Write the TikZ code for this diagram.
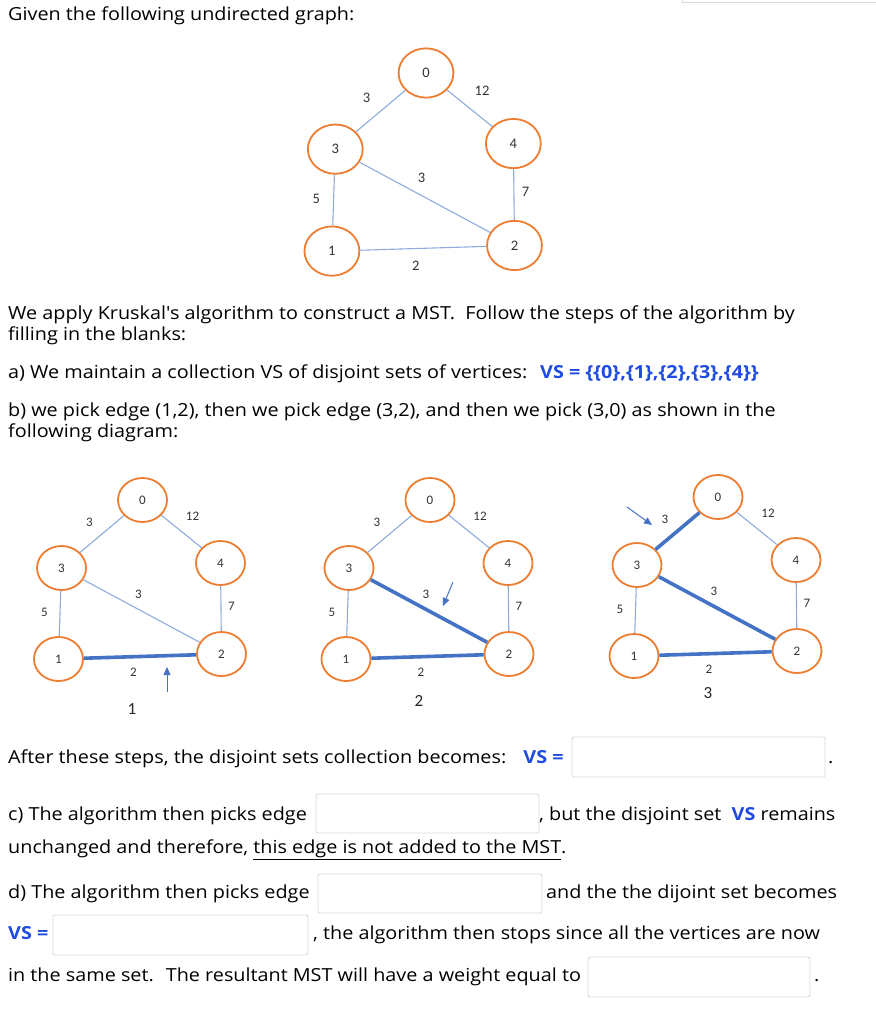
\documentclass[tikz,border=0pt]{standalone}
\usepackage{fontspec}
\setmainfont{Open Sans}[FakeStretch=1.1]
\newfontfamily\lblfont{Carlito}
\usetikzlibrary{shapes.geometric,arrows.meta}

\definecolor{vorange}{HTML}{ED7D31}
\definecolor{thinblue}{HTML}{8FAADC}
\definecolor{mstblue}{HTML}{4472C4}
\definecolor{vsblue}{HTML}{1F4BE0}
\definecolor{blankgray}{HTML}{D9D9D9}

\tikzset{
  vertex/.style={ellipse, draw=vorange, line width=1.8pt, fill=white,
    minimum width=49pt, minimum height=44pt, inner sep=0pt,
    font=\lblfont\fontsize{13}{13}\selectfont, text=black!80},
  wlabel/.style={font=\lblfont\fontsize{13}{13}\selectfont, text=black!80, inner sep=0pt},
  steplabel/.style={font=\lblfont\fontsize{17}{17}\selectfont, text=black!85, inner sep=0pt},
  thinedge/.style={draw=thinblue, line width=1.1pt},
  mstedge/.style={draw=mstblue, line width=3.6pt},
  pointer/.style={draw=mstblue, line width=1pt, -{Triangle[width=7pt,length=8pt]}},
  txt/.style={anchor=base west, inner sep=0pt, font=\fontsize{18}{21}\selectfont},
  blank/.style={draw=blankgray, line width=0.9pt, rounded corners=2pt, fill=white}
}
\newcommand{\vs}{\textcolor{vsblue}{\bfseries VS}}

% one copy of the graph: prefix, x, y, scale
\newcommand{\kgraph}[4]{%
  \begin{scope}[shift={(#2,#3)}, scale=#4, transform shape]
    \node[vertex] (#1-0) at (0,0) {0};
    \node[vertex] (#1-3) at (-81,68) {3};
    \node[vertex] (#1-4) at (78,63) {4};
    \node[vertex] (#1-1) at (-84,159) {1};
    \node[vertex] (#1-2) at (79,154) {2};
    \draw[thinedge] (#1-0) -- (#1-3);
    \draw[thinedge] (#1-0) -- (#1-4);
    \draw[thinedge] (#1-3) -- (#1-2);
    \draw[thinedge] (#1-3) -- (#1-1);
    \draw[thinedge] (#1-4) -- (#1-2);
    \draw[thinedge] (#1-1) -- (#1-2);
    \node[wlabel] (#1-w03) at (-53,22) {3};
    \node[wlabel] (#1-w04) at (50,16) {12};
    \node[wlabel] (#1-w32) at (-4,94) {3};
    \node[wlabel] (#1-w31) at (-98,112) {5};
    \node[wlabel] (#1-w42) at (89,106) {7};
    \node[wlabel] (#1-w12) at (-9,172) {2};
  \end{scope}}

\begin{document}
\begin{tikzpicture}[x=1pt, y=-1pt]
  \useasboundingbox (0,0) rectangle (875,1024);
  \draw[blankgray, line width=1pt] (682,0) -- (682,3) -- (876,3);

  \node[txt] (given) at (8,21) {Given the following undirected graph:};

  % the graph as given
  \kgraph{g}{426}{73}{1.12}

  \node[txt] (intro1) at (8,319) {We apply Kruskal\textquotesingle s algorithm to construct a MST.~ Follow the steps of the algorithm by};
  \node[txt] (intro2) at (8,340) {filling in the blanks:};
  \node[txt] (parta) at (8,378) {a) We maintain a collection VS of disjoint sets of vertices:};
  \node[txt, text=vsblue, font=\fontsize{18}{21}\selectfont\bfseries] (vsinit) at (540,378) {VS = \{\{0\},\{1\},\{2\},\{3\},\{4\}\}};
  \node[txt] (partb1) at (8,416) {b) we pick edge (1,2), then we pick edge (3,2), and then we pick (3,0) as shown in the};
  \node[txt] (partb2) at (8,437) {following diagram:};

  % step 1: edge (1,2)
  \kgraph{s}{142.5}{500}{1}
  \draw[mstedge] (s-1) -- (s-2);
  \coordinate (s-from) at (167,692);
  \coordinate (s-to) at (167,667);
  \draw[pointer] (s-from) -- (s-to);
  \node[steplabel] (s-num) at (132,709) {1};

  % step 2: edge (3,2)
  \kgraph{t}{430}{500}{1}
  \draw[mstedge] (t-1) -- (t-2);
  \draw[mstedge] (t-3) -- (t-2);
  \coordinate (t-from) at (453,582);
  \coordinate (t-to) at (443,606);
  \draw[pointer] (t-from) -- (t-to);
  \node[steplabel] (t-num) at (419,701) {2};

  % step 3: edge (3,0)
  \kgraph{u}{718}{497}{1}
  \draw[mstedge] (u-1) -- (u-2);
  \draw[mstedge] (u-3) -- (u-2);
  \draw[mstedge] (u-3) -- (u-0);
  \coordinate (u-from) at (627,507);
  \coordinate (u-to) at (652,525);
  \draw[pointer] (u-from) -- (u-to);
  \node[steplabel] (u-num) at (708,693) {3};

  % the blanks
  \node[txt] (after) at (8,763) {After these steps, the disjoint sets collection becomes:~~ \vs\ \textcolor{vsblue}{\bfseries =}};
  \draw[blank] (572,737) rectangle (825,777);
  \node[txt] (dot1) at (828,763) {.};

  \node[txt] (partc1) at (8,820) {c) The algorithm then picks edge};
  \draw[blank] (316,794) rectangle (539,833);
  \node[txt] (partc2) at (539,820) {, but the disjoint set~ \vs\ remains};
  \node[txt] (partc3) at (8,853) {unchanged and therefore, \underline{this edge is not added to the MST}.};

  \node[txt] (partd1) at (8,898) {d) The algorithm then picks edge};
  \draw[blank] (318,874) rectangle (542,913);
  \node[txt] (partd2) at (546,898) {and the the dijoint set becomes};
  \node[txt] (partd3) at (8,939) {\vs\ \textcolor{vsblue}{\bfseries =}};
  \draw[blank] (53,915) rectangle (308,955);
  \node[txt] (partd4) at (313,939) {, the algorithm then stops since all the vertices are now};
  \node[txt] (partd5) at (8,981) {in the same set.~ The resultant MST will have a weight equal to};
  \draw[blank] (588,957) rectangle (810,997);
  \node[txt] (dot2) at (814,981) {.};
\end{tikzpicture}
\end{document}
